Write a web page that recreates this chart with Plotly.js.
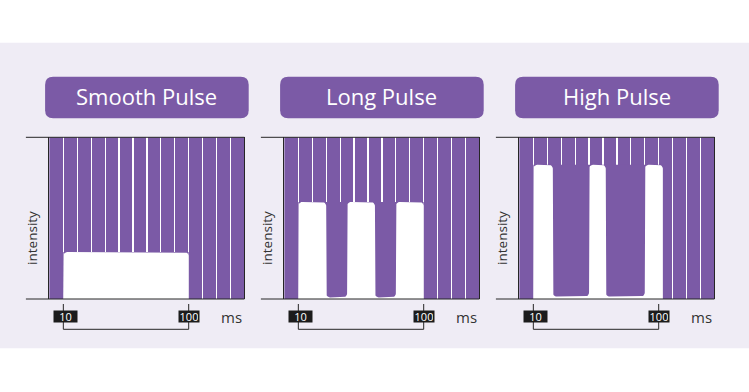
<!DOCTYPE html>
<html>
<head>
<meta charset="utf-8">
<script src="https://cdn.plot.ly/plotly-3.0.1.min.js"></script>
<style>html,body{margin:0;padding:0;background:#fff;}#chart{width:749px;height:392px;}</style>
</head>
<body>
<div id="chart"></div>
<script>
// ---- data ----
const panelTitles = ["Smooth Pulse", "Long Pulse", "High Pulse"];
const pulseStarts = [[10], [10, 45, 80], [10, 50, 90]];
const pulseEnds   = [[100], [30, 65, 100], [24, 62, 103]];
const pulseHeights = [29, 60, 83];
const baseLevels = [0, 1, 1.5];
const gridTicks = [10, 20, 30, 40, 50, 60, 70, 80, 90, 100, 110, 120, 130];
const tickLabels = [10, 100];
const xUnit = "ms";
const yLabel = "intensity";

// ---- layout helpers ----
const W = 749, H = 392;
const px = x => x / W;
const py = y => 1 - y / H;
const PURPLE = "#7B5AA6";
const LAV = "#EFECF5";
const DARK = "#262626";
const panelLeft = [49.4, 284.4, 519.4];
const panelW = 195;
const plotTop = 137.3, plotBot = 299;
const xMax = 140, yMax = 100;
const pxPerX = panelW / xMax, pxPerY = (plotBot - plotTop) / yMax;

function arc(cx, cy, rx, ry, a0, a1, n) {
  const pts = [];
  for (let i = 0; i <= n; i++) {
    const a = (a0 + (a1 - a0) * i / n) * Math.PI / 180;
    pts.push([cx + rx * Math.cos(a), cy + ry * Math.sin(a)]);
  }
  return pts;
}
function pulsePath(starts, ends, h, base) {
  const rx = 4 / pxPerX, ry = 4 / pxPerY;
  let pts = [[starts[0], 0]];
  for (let i = 0; i < starts.length; i++) {
    const s = starts[i], e = ends[i];
    pts.push([s, h - ry]);
    pts = pts.concat(arc(s + rx, h - ry, rx, ry, 180, 90, 6));
    pts = pts.concat(arc(e - rx, h - ry, rx, ry, 90, 0, 6));
    if (i < starts.length - 1) {
      const s2 = starts[i + 1];
      pts = pts.concat(arc(e + rx, base + ry, rx, ry, 180, 270, 6));
      pts = pts.concat(arc(s2 - rx, base + ry, rx, ry, 270, 360, 6));
    } else {
      pts.push([e, 0]);
    }
  }
  pts.push([starts[0], 0]);
  return {x: pts.map(p => p[0]), y: pts.map(p => p[1])};
}

const traces = [];
const layout = {
  width: W, height: H,
  margin: {l: 0, r: 0, t: 0, b: 0},
  paper_bgcolor: LAV,
  plot_bgcolor: PURPLE,
  showlegend: false,
  shapes: [
    {type: "rect", xref: "paper", yref: "paper", x0: 0, x1: 1, y0: py(0), y1: py(42.7), fillcolor: "#ffffff", line: {width: 0}, layer: "below"},
    {type: "rect", xref: "paper", yref: "paper", x0: 0, x1: 1, y0: py(348.3), y1: py(392), fillcolor: "#ffffff", line: {width: 0}, layer: "below"}
  ],
  annotations: []
};

function rr(x0, y0, x1, y1, r) {
  const P = (x, y) => px(x) + "," + py(y);
  return "M " + P(x0 + r, y0) + " L " + P(x1 - r, y0) + " Q " + P(x1, y0) + " " + P(x1, y0 + r) +
    " L " + P(x1, y1 - r) + " Q " + P(x1, y1) + " " + P(x1 - r, y1) +
    " L " + P(x0 + r, y1) + " Q " + P(x0, y1) + " " + P(x0, y1 - r) +
    " L " + P(x0, y0 + r) + " Q " + P(x0, y0) + " " + P(x0 + r, y0) + " Z";
}

panelTitles.forEach((title, i) => {
  const n = i === 0 ? "" : String(i + 1);
  const xa = "x" + n, ya = "y" + n;
  const left = panelLeft[i];
  layout["xaxis" + n] = {
    domain: [px(left), px(left + panelW)], range: [0, xMax], anchor: ya,
    tickvals: gridTicks, showticklabels: false, ticks: "",
    showgrid: true, gridcolor: "#ffffff", gridwidth: 1.2,
    zeroline: false, showline: false, fixedrange: true
  };
  layout["yaxis" + n] = {
    domain: [py(plotBot), py(plotTop)], range: [0, yMax], anchor: xa,
    showgrid: false, showticklabels: false, ticks: "", zeroline: false,
    showline: true, mirror: true, linecolor: DARK, linewidth: 1, fixedrange: true
  };
  const starts = pulseStarts[i], ends = pulseEnds[i], h = pulseHeights[i];
  const x0 = starts[0], x1 = ends[ends.length - 1];
  traces.push({type: "scatter", mode: "lines", xaxis: xa, yaxis: ya,
    x: [x0, x1, x1, x0, x0], y: [0, 0, h, h, 0], fill: "toself", fillcolor: PURPLE,
    line: {width: 0, color: PURPLE}, hoverinfo: "skip"});
  const p = pulsePath(starts, ends, h, baseLevels[i]);
  traces.push({type: "scatter", mode: "lines", xaxis: xa, yaxis: ya,
    x: p.x, y: p.y, fill: "toself", fillcolor: "#ffffff",
    line: {width: 0, color: "#ffffff"}, hoverinfo: "skip"});

  [0, 1].forEach(yy => layout.shapes.push({type: "line", xref: xa + " domain", yref: ya + " domain",
    x0: -23.5 / panelW, x1: 1, y0: yy, y1: yy, line: {color: DARK, width: 1}}));
  layout.shapes.push({type: "path", xref: "paper", yref: "paper", path: rr(left - 4.3, 76.7, left + panelW + 4.3, 118.3, 8),
    fillcolor: PURPLE, line: {width: 0}, layer: "below"});
  layout.annotations.push({xref: xa + " domain", x: 0.5, yref: "paper", y: py(96.3), xanchor: "center", yanchor: "middle",
    text: title, showarrow: false, font: {family: "Open Sans", size: 22, color: "#ffffff"}});
  tickLabels.forEach(v => layout.shapes.push({type: "line", xref: xa, yref: "paper", x0: v, x1: v, y0: py(304), y1: py(329.3),
    line: {color: DARK, width: 1}}));
  layout.shapes.push({type: "line", xref: xa, yref: "paper", x0: tickLabels[0], x1: tickLabels[tickLabels.length - 1],
    y0: py(329.3), y1: py(329.3), line: {color: DARK, width: 1}});
  tickLabels.forEach((v, k) => layout.annotations.push({xref: xa, x: v, yref: "paper", y: py(316.7),
    xanchor: "center", yanchor: "middle", xshift: k === 0 ? 1.7 : 0,
    text: String(v), showarrow: false, bgcolor: "#1c1c1c", borderpad: 1,
    width: k === 0 ? 21 : 18, height: 9,
    font: {family: "Open Sans", size: 11, color: "#ffffff"}}));
  layout.annotations.push({xref: xa + " domain", x: 1, yref: "paper", y: py(317), xanchor: "right", yanchor: "middle",
    text: xUnit, showarrow: false, font: {family: "Open Sans", size: 15, color: "#333333"}});
  layout.annotations.push({xref: xa + " domain", x: 0, xshift: -18, yref: "paper", y: py(237.5), xanchor: "center", yanchor: "middle",
    text: yLabel, textangle: -90, showarrow: false, font: {family: "Open Sans", size: 13.5, color: "#333333"}});
});

Plotly.newPlot("chart", traces, layout, {staticPlot: true, displayModeBar: false});
</script>
</body>
</html>
